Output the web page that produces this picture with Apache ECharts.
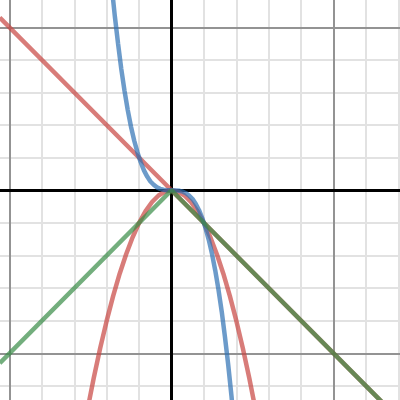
<!DOCTYPE html>
<html>
<head>
<meta charset="utf-8">
<script src="https://cdn.jsdelivr.net/npm/echarts@6/dist/echarts.min.js"></script>
<style>
html,body{margin:0;padding:0;background:#fff;}
#chart{width:400px;height:400px;}
</style>
</head>
<body>
<div id="chart"></div>
<script>
// Grid positions (units)
var minorTicksX = [-5,-4,-3,-2,-1,1,2,3,4,5,6,7];
var minorTicksY = [-6,-5,-4,-3,-2,-1,1,2,3,4,5];
var majorTicksX = [-5,5];
var majorTicksY = [-5,5];
var axisTicks = [0];

// Red straight line (read endpoints)
var redLine = [[-5.3,5.3],[0,0],[7.1,-7.1]];
// Red parabola (read points)
var redParabola = [
  [-2.6,-6.76],[-2.4,-5.76],[-2.2,-4.84],[-2.0,-4.0],[-1.8,-3.24],[-1.6,-2.56],
  [-1.4,-1.96],[-1.2,-1.44],[-1.0,-1.0],[-0.8,-0.64],[-0.6,-0.36],[-0.4,-0.16],
  [-0.2,-0.04],[0,0],[0.2,-0.04],[0.4,-0.16],[0.6,-0.36],[0.8,-0.64],[1.0,-1.0],
  [1.2,-1.44],[1.4,-1.96],[1.6,-2.56],[1.8,-3.24],[2.0,-4.0],[2.2,-4.84],
  [2.4,-5.76],[2.6,-6.76]
];
// Blue cubic-like curve (read points)
var blueCurve = [
  [-1.95,7.4],[-1.85,6.3],[-1.75,5.35],[-1.65,4.5],[-1.55,3.72],[-1.45,3.05],
  [-1.35,2.46],[-1.25,1.95],[-1.15,1.52],[-1.05,1.16],[-0.95,0.86],[-0.85,0.61],
  [-0.75,0.42],[-0.65,0.27],[-0.55,0.17],[-0.45,0.09],[-0.35,0.043],[-0.25,0.016],
  [-0.15,0.003],[0,0],[0.15,-0.003],[0.25,-0.016],[0.35,-0.043],[0.45,-0.09],
  [0.55,-0.17],[0.65,-0.27],[0.75,-0.42],[0.85,-0.61],[0.95,-0.86],[1.05,-1.16],
  [1.15,-1.52],[1.25,-1.95],[1.35,-2.46],[1.45,-3.05],[1.55,-3.72],[1.65,-4.5],
  [1.75,-5.35],[1.85,-6.3],[1.95,-7.4]
];
// Green V line (read endpoints)
var greenLine = [[-5.3,-5.3],[0,0],[7.1,-7.1]];

var X_MIN = -5.293, X_MAX = 7.052, Y_MIN = -6.433, Y_MAX = 5.837;

var chart = echarts.init(document.getElementById('chart'), null, {renderer:'canvas'});

function vLines(vals, color, width){
  return vals.map(function(v){return {xAxis:v, lineStyle:{color:color,width:width,type:'solid'}};});
}
function hLines(vals, color, width){
  return vals.map(function(v){return {yAxis:v, lineStyle:{color:color,width:width,type:'solid'}};});
}

var gridData = []
  .concat(vLines(minorTicksX.filter(function(v){return majorTicksX.indexOf(v)<0;}), '#e2e2e2', 2))
  .concat(hLines(minorTicksY.filter(function(v){return majorTicksY.indexOf(v)<0;}), '#e2e2e2', 2))
  .concat(vLines(majorTicksX, '#939393', 2))
  .concat(hLines(majorTicksY, '#939393', 2))
  .concat(vLines(axisTicks, '#000000', 3))
  .concat(hLines(axisTicks, '#000000', 3));

function curve(data, color, z){
  return {
    type:'line', data:data, showSymbol:false, symbol:'none', smooth:false,
    lineStyle:{color:color, width:4.5, opacity:0.7},
    silent:true, animation:false, clip:true, z:z
  };
}

chart.setOption({
  animation:false,
  backgroundColor:'#ffffff',
  grid:{left:0,right:0,top:0,bottom:0,containLabel:false},
  xAxis:{type:'value',min:X_MIN,max:X_MAX,show:false},
  yAxis:{type:'value',min:Y_MIN,max:Y_MAX,show:false},
  series:[
    {
      type:'line', data:[], silent:true, z:1,
      markLine:{silent:true, z:1, symbol:['none','none'], label:{show:false}, animation:false, data:gridData}
    },
    curve(redLine, '#c74440', 10),
    curve(redParabola, '#c74440', 11),
    curve(blueCurve, '#2d70b3', 12),
    curve(greenLine, '#388c46', 13)
  ]
});
</script>
</body>
</html>
